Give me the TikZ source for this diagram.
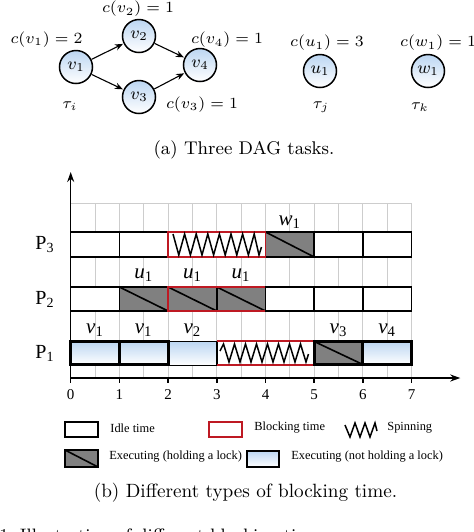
\RequirePackage{fix-cm}
\documentclass[tikz,border=0pt]{standalone}
\usepackage{fontspec}
\newfontfamily\tnr{Liberation Serif}
\usetikzlibrary{arrows.meta}
\definecolor{cellblue}{RGB}{188,214,242}
\definecolor{blockred}{RGB}{190,25,35}
\definecolor{lockgray}{RGB}{128,128,128}
\definecolor{gridgray}{RGB}{205,205,205}
\begin{document}
\begin{tikzpicture}[x=0.5pt,y=-0.5pt,
  task/.style={circle, draw, line width=0.75pt, minimum size=16.5pt, inner sep=0pt,
    top color=cellblue, bottom color=white, font=\fontsize{8.6}{10}\selectfont},
  lbl/.style={font=\fontsize{7.8}{9}\selectfont, inner sep=0pt},
  dep/.style={-{Stealth[length=4pt,width=3.2pt]}, line width=0.55pt, shorten >=0.3pt},
  captxt/.style={font=\fontsize{9.6}{11}\selectfont, inner sep=0pt},
  rowlbl/.style={font=\tnr\fontsize{10}{12}\selectfont, inner sep=0pt},
  joblbl/.style={font=\tnr\itshape\fontsize{10.5}{12}\selectfont, inner sep=0pt},
  ticklbl/.style={font=\tnr\fontsize{7.5}{9}\selectfont, inner sep=0pt},
  legtxt/.style={font=\tnr\fontsize{6.2}{7}\selectfont, inner sep=0pt, anchor=west},
  idle/.style={draw=black, line width=0.8pt, fill=white},
  lock/.style={draw=black, line width=0.8pt, fill=lockgray},
  lockthick/.style={draw=black, line width=1.5pt, fill=lockgray},
  free/.style={draw=black, line width=1.5pt, top color=cellblue, bottom color=white},
  freethin/.style={draw=black, line width=0.8pt, top color=cellblue, bottom color=white},
  block/.style={draw=blockred, line width=0.8pt},
  spin/.style={draw=black, line width=0.75pt, line join=miter},
  gridline/.style={draw=gridgray, line width=0.5pt},
  axis/.style={line width=0.8pt, -{Stealth[length=5pt,width=3.5pt]}}
]
\useasboundingbox (0,0) rectangle (474,532);

% ---------- (a) DAG tasks ----------
\node[task] (v1) at (76,67) {$v_1$};
\node[task] (v2) at (139,36) {$v_2$};
\node[task] (v3) at (139,97) {$v_3$};
\node[task] (v4) at (200,65) {$v_4$};
\node[task] (u1) at (320,71) {$u_1$};
\node[task] (w1) at (428,71) {$w_1$};
\draw[dep] (v1) -- (v2);
\draw[dep] (v1) -- (v3);
\draw[dep] (v2) -- (v4);
\draw[dep] (v3) -- (v4);
\node[lbl] (cv1) at (46.5,39.5) {$c(v_1)=2$};
\node[lbl] (cv2) at (138,9) {$c(v_2)=1$};
\node[lbl] (cv4) at (227,40) {$c(v_4)=1$};
\node[lbl] (cv3) at (202,104.5) {$c(v_3)=1$};
\node[lbl] (ti) at (70,106) {$\tau_i$};
\node[lbl] (cu1) at (327,43) {$c(u_1)=3$};
\node[lbl] (cw1) at (438,43) {$c(w_1)=1$};
\node[lbl] (tj) at (321,107) {$\tau_j$};
\node[lbl] (tk) at (420,107) {$\tau_k$};
\node[captxt, font=\fontsize{9.2}{11}\selectfont] (capa) at (244,150) {(a) Three DAG tasks.};

% ---------- (b) schedule ----------
\begin{scope}[xshift=35.35pt, x=24.35pt]
  \foreach \t in {0,0.5,...,7} \draw[gridline] (\t,203) -- (\t,378);
  \draw[gridline] (0,203) -- (7,203);
  % P3
  \draw[idle] (0,232) rectangle (1,257);
  \draw[idle] (1,232) rectangle (2,257);
  \draw[lock] (4,232) rectangle (5,257);
  \draw[line width=0.8pt] (4,232) -- (5,257);
  \draw[idle] (5,232) rectangle (6,257);
  \draw[idle] (6,232) rectangle (7,257);
  \draw[block, fill=white] (2,232) rectangle (4,257);
  % P2
  \draw[idle] (0,287) rectangle (1,311);
  \draw[lock] (1,287) rectangle (2,311);
  \draw[line width=0.8pt] (1,287) -- (2,311);
  \draw[lock] (2,287) rectangle (3,311);
  \draw[line width=0.8pt] (2,287) -- (3,311);
  \draw[lock] (3,287) rectangle (4,311);
  \draw[line width=0.8pt] (3,287) -- (4,311);
  \draw[block] (2,287) rectangle (4,311);
  \draw[idle] (4,287) rectangle (5,311);
  \draw[idle] (5,287) rectangle (6,311);
  \draw[idle] (6,287) rectangle (7,311);
  % P1
  \draw[freethin] (2,341.5) rectangle (3,365.5);
  \draw[block] (3,341) -- (5,341);
  \draw[block] (3,365) -- (5,365);
  \draw[free] (0,341.5) rectangle (1,364.5);
  \draw[free] (1,341.5) rectangle (2,364.5);
  \draw[lockthick] (5,341.5) rectangle (6,364.5);
  \draw[line width=0.8pt] (5,341.5) -- (6,364.5);
  \draw[free] (6,341.5) rectangle (7,364.5);
  % job labels
  \node[joblbl] (lw1) at (4.5,222) {w\textsubscript{\upshape 1}};
  \foreach \t/\n in {1.5/a,2.5/b,3.5/c}
    \node[joblbl] (lu\n) at (\t,275) {u\textsubscript{\upshape 1}};
  \node[joblbl] (lv1a) at (0.5,330) {v\textsubscript{\upshape 1}};
  \node[joblbl] (lv1b) at (1.5,330) {v\textsubscript{\upshape 1}};
  \node[joblbl] (lv2) at (2.5,330) {v\textsubscript{\upshape 2}};
  \node[joblbl] (lv3) at (5.5,330) {v\textsubscript{\upshape 3}};
  \node[joblbl] (lv4) at (6.5,330) {v\textsubscript{\upshape 4}};
  % axes
  \coordinate (o) at (0,378);
  \coordinate (ytop) at (0,172);
  \coordinate (xend) at (8.0,378);
  \draw[axis] (o) -- (ytop);
  \draw[axis] (o) -- (xend);
  \foreach \t in {0,...,7} {
    \draw[line width=0.8pt] (\t,378) -- (\t,383);
    \node[ticklbl] (tick\t) at (\t,395) {\t};
  }
\end{scope}
% spinning zigzags
\draw[spin] (173,234) \foreach \k in {0,...,6}{ -- ({178.8+11.6*\k},255) -- ({184.6+11.6*\k},234)} -- (259,255) -- (261.5,247);
\draw[spin] (220,351) \foreach \k in {0,...,7}{ -- ({223.5+11*\k},344) -- ({229+11*\k},362)} -- (308.5,354);
% row labels
\node[rowlbl] (p3) at (45,245) {P\textsubscript{3}};
\node[rowlbl] (p2) at (45,299) {P\textsubscript{2}};
\node[rowlbl] (p1) at (45,353) {P\textsubscript{1}};

% ---------- legend ----------
\draw[idle] (65,422) rectangle (98,437);
\node[legtxt] (lidle) at (110,428) {Idle time};
\draw[block] (209,422) rectangle (242,437);
\node[legtxt] (lblock) at (254,428) {Blocking time};
\draw[spin] (345,425) -- (350,437) -- (355,423) -- (360,437) -- (365,423) -- (370,437) -- (375,423) -- (377,431);
\node[legtxt] (lspin) at (387,428) {Spinning};
\draw[lockthick, line width=1.1pt] (65,450) rectangle (98,467);
\draw[line width=0.8pt] (65,450) -- (98,467);
\node[legtxt] (llock) at (109,457) {Executing (holding a lock)};
\draw[free, line width=1.1pt] (247,451) rectangle (279,467);
\node[legtxt] (lfree) at (291,457) {Executing (not holding a lock)};
\node[captxt] (capb) at (245.5,493) {(b)\ Different types of blocking time.};
\node[captxt, font=\fontsize{9}{11}\selectfont, anchor=base west] (fig) at (-1,541) {1.\ Illustration of different blocking time.};
\end{tikzpicture}
\end{document}
